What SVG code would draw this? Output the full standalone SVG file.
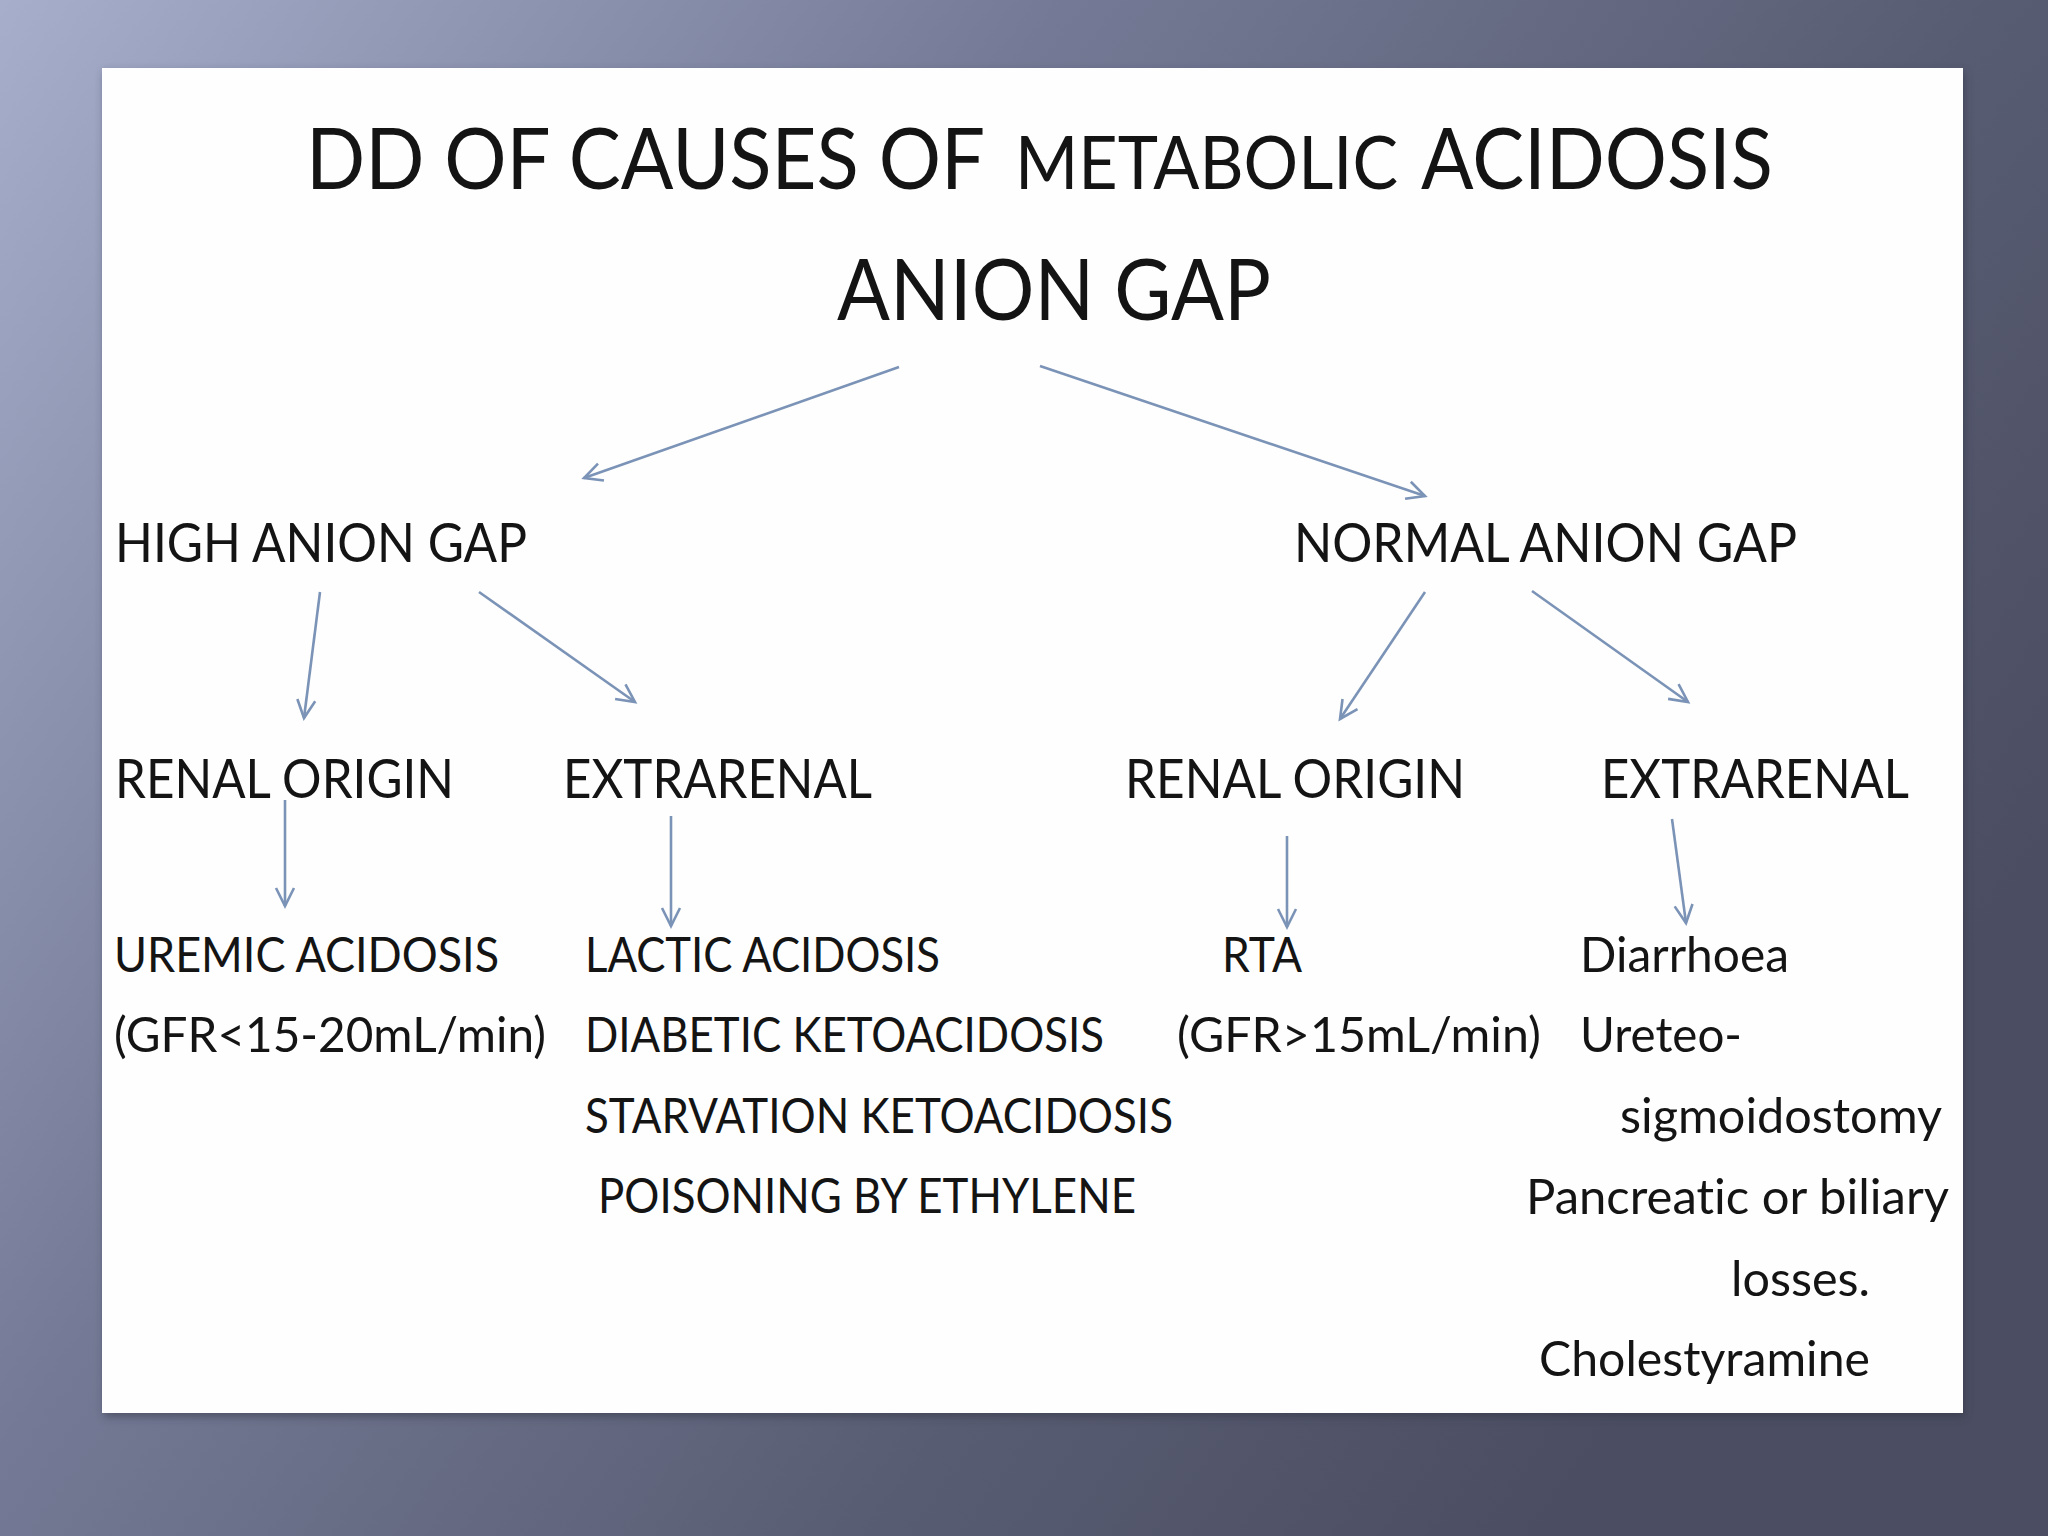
<svg xmlns="http://www.w3.org/2000/svg" width="2048" height="1536" viewBox="0 0 2048 1536">
<style>
text{font-family:Lato,"Open Sans","Liberation Sans",sans-serif;fill:#141414;font-variant-ligatures:none;}
.t1{font-size:85px;}
.t1s{font-size:74px;}
.l2{font-size:54px;}
.l3{font-size:49px;}
.conn line{stroke:#7b93b6;stroke-width:2.6;marker-end:url(#ah);}
</style>
<defs>
<linearGradient id="bg" x1="0" y1="0" x2="1" y2="0.55">
<stop offset="0" stop-color="#a6aecb"/>
<stop offset="0.4" stop-color="#747a95"/>
<stop offset="0.75" stop-color="#585c72"/>
<stop offset="1" stop-color="#4b4e62"/>
</linearGradient>
<marker id="ah" markerUnits="userSpaceOnUse" markerWidth="40" markerHeight="40" refX="0" refY="0" orient="auto" overflow="visible">
<path d="M-18,-9 L0,0 L-18,9" fill="none" stroke="#7b93b6" stroke-width="2.6"/>
</marker>
<filter id="sh" x="-5%" y="-5%" width="110%" height="110%"><feGaussianBlur stdDeviation="4"/></filter>
</defs>
<rect width="2048" height="1536" fill="url(#bg)"/>
<rect x="104" y="72" width="1861" height="1345" fill="#2e3040" opacity="0.5" filter="url(#sh)"/>
<rect x="102" y="68" width="1861" height="1345" fill="#fefefe"/>

<g id="title">
<text class="t1" x="306" y="189" textLength="679" lengthAdjust="spacingAndGlyphs">DD OF CAUSES OF</text>
<text class="t1s" x="1015" y="189" textLength="383" lengthAdjust="spacingAndGlyphs">METABOLIC</text>
<text class="t1" x="1421" y="189" textLength="352" lengthAdjust="spacingAndGlyphs">ACIDOSIS</text>
</g>
<g id="anion-gap">
<text class="t1" x="837" y="320" textLength="434" lengthAdjust="spacingAndGlyphs">ANION GAP</text>
</g>
<g id="high-anion-gap">
<text class="l2" x="115" y="562" textLength="412" lengthAdjust="spacingAndGlyphs">HIGH ANION GAP</text>
</g>
<g id="normal-anion-gap">
<text class="l2" x="1294" y="562" textLength="503" lengthAdjust="spacingAndGlyphs">NORMAL ANION GAP</text>
</g>
<g id="renal-origin-high">
<text class="l2" x="115" y="798" textLength="339" lengthAdjust="spacingAndGlyphs">RENAL ORIGIN</text>
</g>
<g id="extrarenal-high">
<text class="l2" x="563" y="798" textLength="309" lengthAdjust="spacingAndGlyphs">EXTRARENAL</text>
</g>
<g id="renal-origin-normal">
<text class="l2" x="1125" y="798" textLength="340" lengthAdjust="spacingAndGlyphs">RENAL ORIGIN</text>
</g>
<g id="extrarenal-normal">
<text class="l2" x="1601" y="798" textLength="308" lengthAdjust="spacingAndGlyphs">EXTRARENAL</text>
</g>
<g id="uremic">
<text class="l3" x="114" y="972" textLength="385" lengthAdjust="spacingAndGlyphs">UREMIC ACIDOSIS</text>
<text class="l3" x="114" y="1052" textLength="432" lengthAdjust="spacingAndGlyphs">(GFR&lt;15-20mL/min)</text>
</g>
<g id="extrarenal-high-causes">
<text class="l3" x="585" y="972" textLength="355" lengthAdjust="spacingAndGlyphs">LACTIC ACIDOSIS</text>
<text class="l3" x="585" y="1052" textLength="519" lengthAdjust="spacingAndGlyphs">DIABETIC KETOACIDOSIS</text>
<text class="l3" x="585" y="1133" textLength="588" lengthAdjust="spacingAndGlyphs">STARVATION KETOACIDOSIS</text>
<text class="l3" x="598" y="1213" textLength="538" lengthAdjust="spacingAndGlyphs">POISONING BY ETHYLENE</text>
</g>
<g id="rta">
<text class="l3" x="1222" y="972" textLength="80" lengthAdjust="spacingAndGlyphs">RTA</text>
<text class="l3" x="1177" y="1052" textLength="364" lengthAdjust="spacingAndGlyphs">(GFR&gt;15mL/min)</text>
</g>
<g id="extrarenal-normal-causes">
<text class="l3" x="1580" y="972" textLength="209" lengthAdjust="spacingAndGlyphs">Diarrhoea</text>
<text class="l3" x="1580" y="1052" textLength="162" lengthAdjust="spacingAndGlyphs">Ureteo-</text>
<text class="l3" x="1620" y="1133" textLength="322" lengthAdjust="spacingAndGlyphs">sigmoidostomy</text>
<text class="l3" x="1526" y="1214" textLength="423" lengthAdjust="spacingAndGlyphs">Pancreatic or biliary</text>
<text class="l3" x="1731" y="1296" textLength="139" lengthAdjust="spacingAndGlyphs">losses.</text>
<text class="l3" x="1539" y="1376" textLength="331" lengthAdjust="spacingAndGlyphs">Cholestyramine</text>
</g>

<g id="connectors" class="conn">
<line x1="899" y1="367" x2="584" y2="478"/>
<line x1="1040" y1="366" x2="1425" y2="496"/>
<line x1="320" y1="592" x2="304" y2="718"/>
<line x1="479" y1="592" x2="635" y2="702"/>
<line x1="1425" y1="592" x2="1340" y2="719"/>
<line x1="1532" y1="591" x2="1688" y2="702"/>
<line x1="285" y1="800" x2="285" y2="906"/>
<line x1="671" y1="816" x2="671" y2="926"/>
<line x1="1287" y1="836" x2="1287" y2="927"/>
<line x1="1672" y1="819" x2="1686" y2="923"/>
</g>
</svg>
